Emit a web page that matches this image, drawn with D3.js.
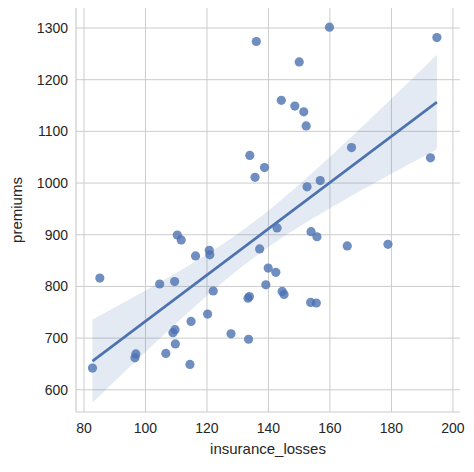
<!DOCTYPE html>
<html><head><meta charset="utf-8">
<script src="https://cdn.jsdelivr.net/npm/d3@7"></script>
<style>body{margin:0;background:#fff}</style></head>
<body><svg id="chart" width="474" height="472"></svg>
<script>
// car_crashes: insurance losses vs premiums
const losses = [145.08,133.93,110.35,142.39,165.63,139.91,167.02,151.48,136.05,144.18,142.80,120.92,82.75,139.15,108.92,114.47,133.80,137.13,194.78,96.57,192.70,135.63,152.26,133.35,155.77,144.45,85.15,114.82,138.71,120.21,159.85,120.75,150.01,127.82,109.72,133.52,178.86,104.61,153.86,148.58,116.29,96.87,155.57,156.83,109.48,109.61,153.72,111.62,152.56,106.62,122.04];
const premiums = [784.55,1053.48,899.47,827.34,878.41,835.5,1068.73,1137.87,1273.89,1160.13,913.15,861.18,641.96,803.11,710.46,649.06,780.45,872.51,1281.55,661.88,1048.78,1011.14,1110.61,777.18,896.07,790.32,816.21,732.28,1029.87,746.54,1301.52,869.85,1234.31,708.24,688.75,697.73,881.51,804.71,905.99,1148.99,858.97,669.31,767.91,1004.75,809.38,716.2,768.95,890.03,992.61,670.31,791.14];
const xTicks = [80,100,120,140,160,180,200];
const yTicks = [600,700,800,900,1000,1100,1200,1300];

const svg = d3.select("#chart");
const m = {l:76, r:14, t:8, b:60};
const W = 474, H = 472;
const x = d3.scaleLinear().domain([77.4,202.3]).range([m.l, W-m.r]);
const y = d3.scaleLinear().domain([557,1338.7]).range([H-m.b, m.t]);
const blue = "#4c72b0";

// grid
svg.append("g").selectAll("line").data(xTicks).join("line")
  .attr("x1",d=>x(d)).attr("x2",d=>x(d)).attr("y1",m.t).attr("y2",H-m.b)
  .attr("stroke","#cccccc").attr("stroke-width",1);
svg.append("g").selectAll("line").data(yTicks).join("line")
  .attr("y1",d=>y(d)).attr("y2",d=>y(d)).attr("x1",m.l).attr("x2",W-m.r)
  .attr("stroke","#cccccc").attr("stroke-width",1);

// regression + CI
const n = losses.length;
const mx = d3.mean(losses), my = d3.mean(premiums);
let sxx=0, sxy=0;
losses.forEach((v,i)=>{sxx+=(v-mx)**2; sxy+=(v-mx)*(premiums[i]-my);});
const b = sxy/sxx, a = my - b*mx;
let sse=0; losses.forEach((v,i)=>{sse+=(premiums[i]-a-b*v)**2;});
const s = Math.sqrt(sse/(n-2)), tq = 1.75;
const [x0,x1] = d3.extent(losses);
const grid = d3.range(0,101).map(i=>x0+(x1-x0)*i/100);
const band = grid.map(g=>{const f=a+b*g, e=tq*s*Math.sqrt(1/n+(g-mx)**2/sxx); return {g,lo:f-e,hi:f+e};});
svg.append("path").datum(band)
  .attr("d",d3.area().x(d=>x(d.g)).y0(d=>y(d.lo)).y1(d=>y(d.hi)))
  .attr("fill",blue).attr("fill-opacity",0.15);

// points
svg.append("g").selectAll("circle").data(losses).join("circle")
  .attr("cx",d=>x(d)).attr("cy",(d,i)=>y(premiums[i])).attr("r",4.6)
  .attr("fill",blue).attr("fill-opacity",0.8).attr("stroke","none");

svg.append("line").attr("x1",x(x0)).attr("x2",x(x1))
  .attr("y1",y(a+b*x0)).attr("y2",y(a+b*x1))
  .attr("stroke",blue).attr("stroke-width",2.6);

// spines
svg.append("line").attr("x1",m.l).attr("x2",m.l).attr("y1",m.t).attr("y2",H-m.b).attr("stroke","#cccccc").attr("stroke-width",1.2);
svg.append("line").attr("x1",m.l).attr("x2",W-m.r).attr("y1",H-m.b).attr("y2",H-m.b).attr("stroke","#cccccc").attr("stroke-width",1.2);

const font = "Liberation Sans, Arial, sans-serif";
svg.append("g").selectAll("text").data(xTicks).join("text")
  .attr("x",d=>x(d)).attr("y",H-m.b+21).attr("text-anchor","middle")
  .attr("font-family",font).attr("font-size",14).attr("fill","#262626").text(d=>d);
svg.append("g").selectAll("text").data(yTicks).join("text")
  .attr("x",m.l-8).attr("y",d=>y(d)+5).attr("text-anchor","end")
  .attr("font-family",font).attr("font-size",14).attr("fill","#262626").text(d=>d);
svg.append("text").attr("x",(m.l+W-m.r)/2).attr("y",H-m.b+42).attr("text-anchor","middle")
  .attr("font-family",font).attr("font-size",15).attr("fill","#262626").text("insurance_losses");
svg.append("text").attr("transform",`translate(22,${(m.t+H-m.b)/2}) rotate(-90)`).attr("text-anchor","middle")
  .attr("font-family",font).attr("font-size",15).attr("fill","#262626").text("premiums");
</script></body></html>
